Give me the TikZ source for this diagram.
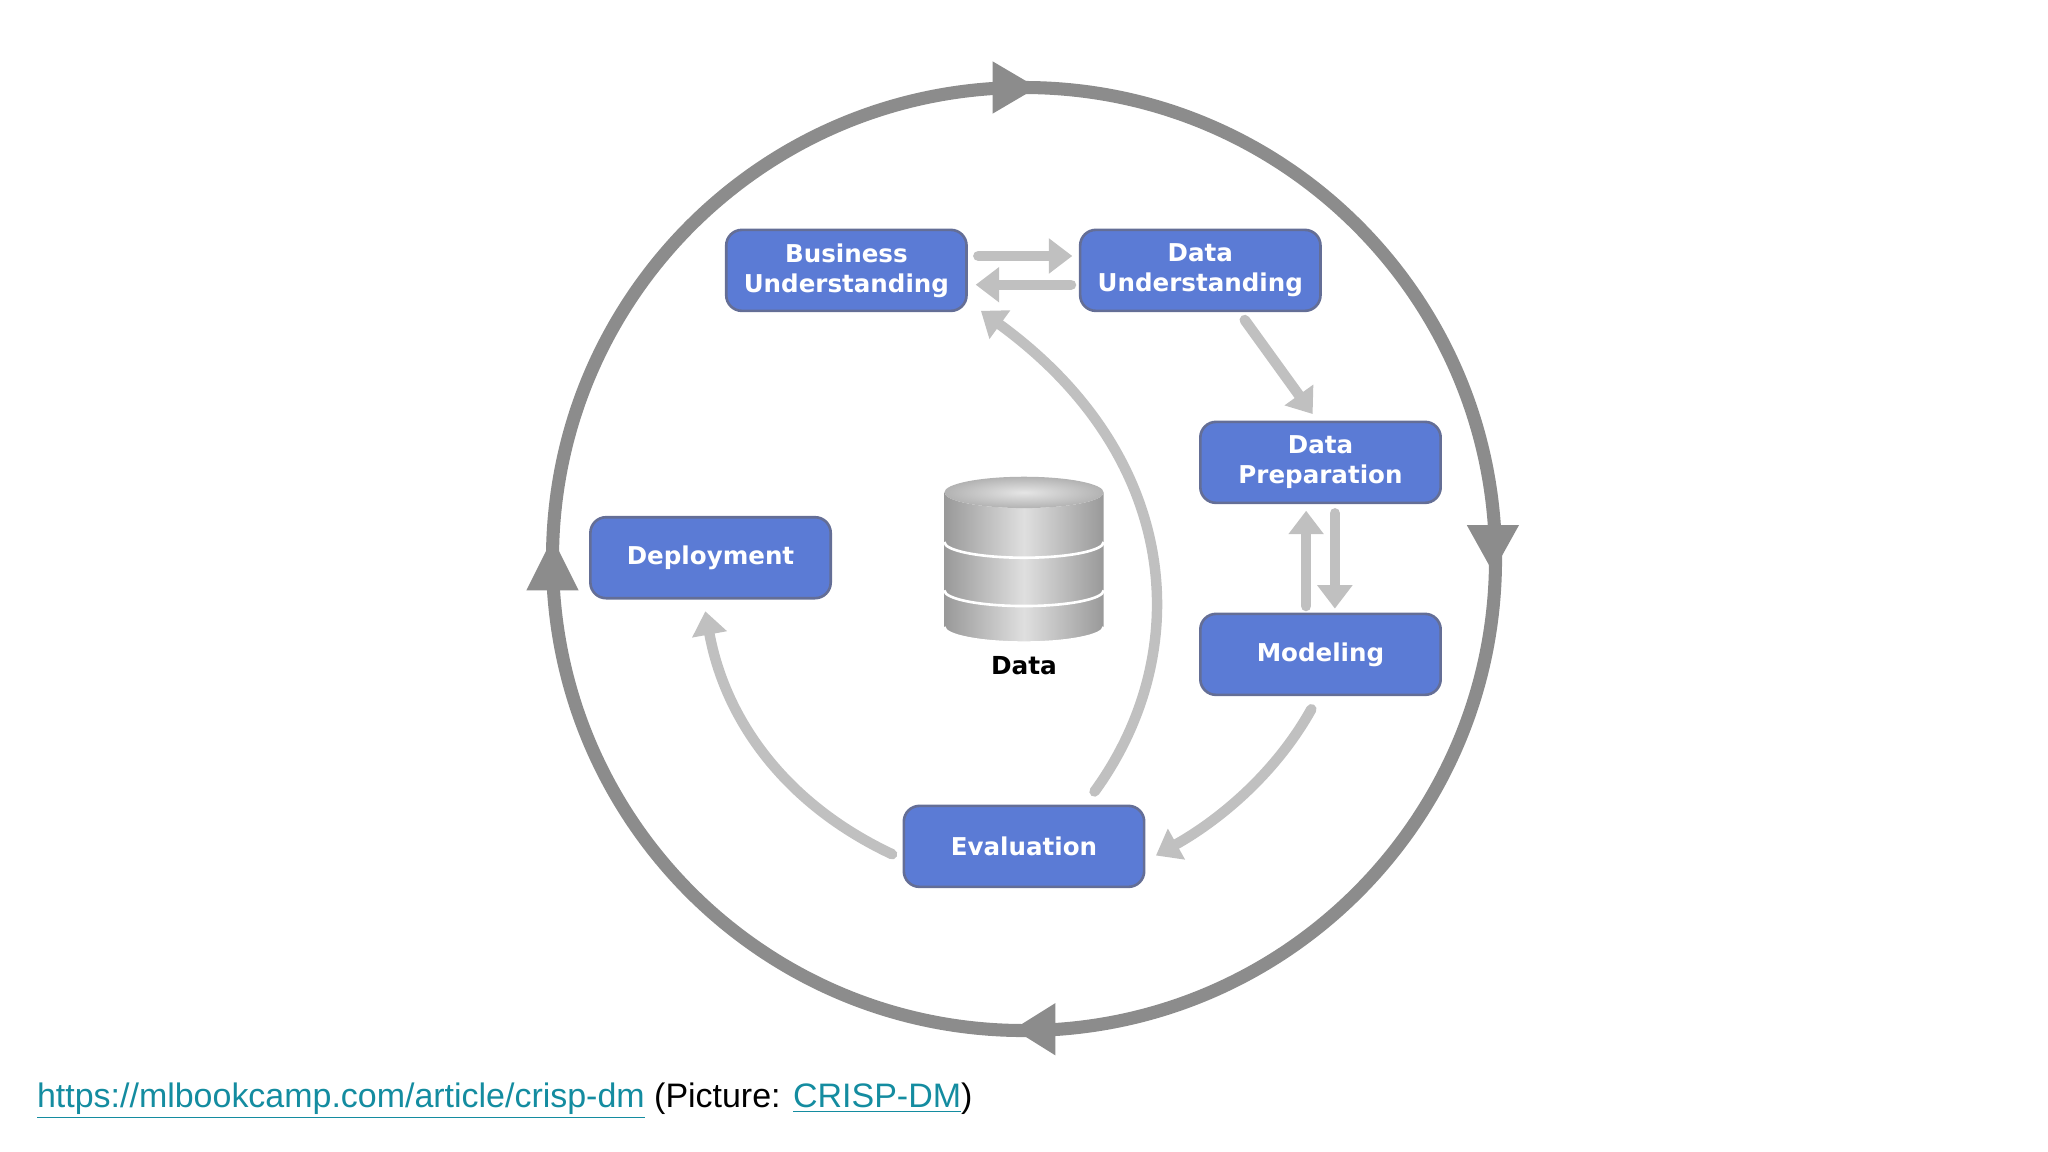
\documentclass[tikz,border=0pt]{standalone}
\usepackage{fontspec}
\setmainfont{Liberation Sans}
\newfontfamily\boxfont{DejaVu Sans}
\usetikzlibrary{arrows.meta,positioning}
\definecolor{boxblue}{RGB}{91,123,213}
\definecolor{boxedge}{RGB}{100,110,150}
\definecolor{ringgray}{RGB}{140,140,140}
\definecolor{flowgray}{RGB}{192,192,192}
\definecolor{linkteal}{RGB}{20,140,160}
\tikzset{
  phase/.style={draw=boxedge, line width=1pt, fill=boxblue, rounded corners=6pt,
    minimum width=92pt, minimum height=31pt, align=center, text=white,
    font=\boxfont\bfseries\fontsize{9.4}{11.5}\selectfont, inner sep=1pt},
  flow/.style={draw=flowgray, line width=4pt, line cap=round,
    -{Triangle[length=9pt,width=13pt]}},
  ringtip/.style={fill=ringgray, draw=none},
}
\begin{document}
\begin{tikzpicture}[x=0.5pt,y=0.5pt,yscale=-1,xscale=1]
\useasboundingbox (0,0) rectangle (1568,882);

%outer cycle
\draw [ringgray, line width=5pt] (784,428) circle (361);
\fill [ringtip] (794,67) -- (760,47) -- (760,87) -- cycle;
\fill [ringtip] (1143,438) -- (1123,402) -- (1163,402) -- cycle;
\fill [ringtip] (776,788) -- (808,768) -- (808,808) -- cycle;
\fill [ringtip] (423,412) -- (403,452) -- (443,452) -- cycle;

%phases
\node [phase] (bu) at (648,207) {Business\\Understanding};
\node [phase] (du) at (919,207) {Data\\Understanding};
\node [phase] (dp) at (1011,354) {Data\\Preparation};
\node [phase] (dep) at (544,427) {Deployment};
\node [phase] (mod) at (1011,501) {Modeling};
\node [phase] (ev) at (784,648) {Evaluation};

%database
\foreach \t/\b in {452/480,415/452,377/415}{
  \shade [left color=gray!80, right color=gray!80, middle color=gray!25]
    (723,\t) -- (723,\b) arc (180:0:61 and 12) -- (845,\t) arc (0:180:61 and 12) -- cycle;
  \draw [white, line width=1pt] (723,\b) arc (180:0:61 and 12);
}
\shade [inner color=gray!20, outer color=gray!60] (784,377) ellipse (61 and 12);
\node [font=\boxfont\bfseries\fontsize{9.5}{11}\selectfont] (data) at (784,510) {Data};

%transitions
\draw [flow] ([xshift=4pt,yshift=-5.5pt]bu.east) -- ([xshift=-2.5pt,yshift=-5.5pt]du.west);
\draw [flow] ([xshift=-3pt,yshift=5.5pt]du.west) -- ([xshift=3pt,yshift=5.5pt]bu.east);
\draw [flow] ([xshift=17pt,yshift=3pt]du.south) -- ([xshift=-3pt,yshift=-2.5pt]dp.north);
\draw [flow] ([xshift=-5.5pt,yshift=-2.5pt]mod.north) -- ([xshift=-5.5pt,yshift=2.5pt]dp.south);
\draw [flow] ([xshift=5.5pt,yshift=3.5pt]dp.south) -- ([xshift=5.5pt,yshift=-1.5pt]mod.north);
\draw [flow] ([xshift=-3.5pt,yshift=5pt]mod.south) .. controls (975,595) and (930,630) .. ([xshift=4pt,yshift=3.5pt]ev.east);
\draw [flow] ([xshift=27pt,yshift=-5pt]ev.north) .. controls (915,500) and (905,350) .. ([xshift=5pt,yshift=-0.5pt]bu.south east);
\draw [flow] ([xshift=-4pt,yshift=3pt]ev.west) .. controls (600,615) and (555,550) .. ([xshift=-2pt,yshift=4.5pt]dep.south);

%caption
\node [anchor=west, inner sep=0pt, font=\fontsize{13}{15}\selectfont] (cap) at (28,843)
  {\textcolor{linkteal}{\underline{https://mlbookcamp.com/article/crisp-dm}} (Picture: \textcolor{linkteal}{\underline{CRISP-DM}})};
\end{tikzpicture}
\end{document}
